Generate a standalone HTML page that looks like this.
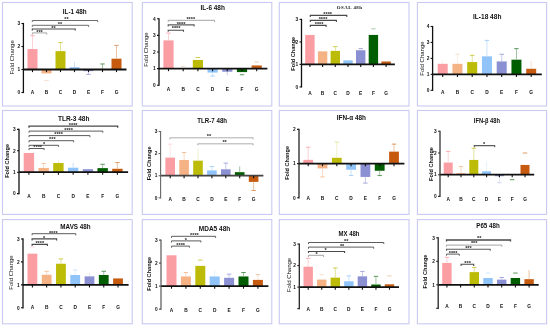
<!DOCTYPE html>
<html><head><meta charset="utf-8"><style>
html,body{margin:0;padding:0;background:#fff;width:550px;height:328px;overflow:hidden}
svg{display:block;will-change:transform;filter:blur(0.3px)}
text{font-family:"Liberation Sans",sans-serif;fill:#111}
.tk{font-size:4.8px;font-weight:bold;text-anchor:middle}
.xl{font-size:4.8px;font-weight:bold;text-anchor:middle}
.st{font-size:5.6px;font-weight:bold;text-anchor:middle;fill:#222}
.ti{text-anchor:middle}
.fc{font-size:6px;font-weight:normal;text-anchor:middle}
.fb{font-size:5.6px;font-weight:bold}
</style></head><body>
<svg width="550" height="328" viewBox="0 0 550 328">
<rect x="2.5" y="2.5" width="129.7" height="103.5" fill="none" stroke="#c9c9f2" stroke-width="1.1"/>
<rect x="27.5" y="49.03" width="10" height="20.47" fill="#fb9ea4"/>
<line x1="32.5" y1="49.03" x2="32.5" y2="35.69" stroke="#fdc6ca" stroke-width="0.8" opacity="1"/>
<line x1="30.3" y1="35.69" x2="34.7" y2="35.69" stroke="#fbb0b5" stroke-width="1" opacity="1"/>
<rect x="41.5" y="69.5" width="10" height="3.91" fill="#f4b285"/>
<line x1="44.3" y1="80.54" x2="48.7" y2="80.54" stroke="#f5c29c" stroke-width="1" opacity="0.5"/>
<rect x="55.5" y="51.1" width="10" height="18.4" fill="#bcbc08"/>
<line x1="60.5" y1="51.1" x2="60.5" y2="42.59" stroke="#dada80" stroke-width="0.8" opacity="1"/>
<line x1="58.3" y1="42.59" x2="62.7" y2="42.59" stroke="#cccc4a" stroke-width="1" opacity="1"/>
<rect x="69.5" y="67.2" width="10" height="2.3" fill="#90c4f8"/>
<line x1="74.5" y1="67.2" x2="74.5" y2="61.91" stroke="#bddcfa" stroke-width="0.8" opacity="1"/>
<rect x="83.5" y="69.5" width="10" height="1.61" fill="#8b90d2"/>
<line x1="88.5" y1="71.11" x2="88.5" y2="74.33" stroke="#b8bbe4" stroke-width="0.8" opacity="1"/>
<line x1="86.3" y1="74.33" x2="90.7" y2="74.33" stroke="#a4a8dc" stroke-width="1" opacity="1"/>
<line x1="102.5" y1="69.5" x2="102.5" y2="63.98" stroke="#8ab48a" stroke-width="0.8" opacity="1"/>
<line x1="100.3" y1="63.98" x2="104.7" y2="63.98" stroke="#5a965a" stroke-width="1" opacity="1"/>
<rect x="111.5" y="58.69" width="10" height="10.81" fill="#c65b10"/>
<line x1="116.5" y1="58.69" x2="116.5" y2="45.35" stroke="#e6b48e" stroke-width="0.8" opacity="1"/>
<line x1="114.3" y1="45.35" x2="118.7" y2="45.35" stroke="#dc9a66" stroke-width="1" opacity="1"/>
<line x1="23.4" y1="69.5" x2="126.5" y2="69.5" stroke="#111" stroke-width="1.8"/>
<line x1="32.5" y1="69.5" x2="32.5" y2="72.1" stroke="#111" stroke-width="1.1"/>
<line x1="46.5" y1="69.5" x2="46.5" y2="72.1" stroke="#111" stroke-width="1.1"/>
<line x1="60.5" y1="69.5" x2="60.5" y2="72.1" stroke="#111" stroke-width="1.1"/>
<line x1="74.5" y1="69.5" x2="74.5" y2="72.1" stroke="#111" stroke-width="1.1"/>
<line x1="88.5" y1="69.5" x2="88.5" y2="72.1" stroke="#111" stroke-width="1.1"/>
<line x1="102.5" y1="69.5" x2="102.5" y2="72.1" stroke="#111" stroke-width="1.1"/>
<line x1="116.5" y1="69.5" x2="116.5" y2="72.1" stroke="#111" stroke-width="1.1"/>
<line x1="23.4" y1="22.9" x2="23.4" y2="93.1" stroke="#111" stroke-width="1.3"/>
<line x1="21.4" y1="92.5" x2="23.4" y2="92.5" stroke="#111" stroke-width="1.1"/>
<text x="18.8" y="94.2" class="tk">0</text>
<line x1="21.4" y1="69.5" x2="23.4" y2="69.5" stroke="#111" stroke-width="1.1"/>
<text x="18.8" y="71.2" class="tk">1</text>
<line x1="21.4" y1="46.5" x2="23.4" y2="46.5" stroke="#111" stroke-width="1.1"/>
<text x="18.8" y="48.2" class="tk">2</text>
<line x1="21.4" y1="23.5" x2="23.4" y2="23.5" stroke="#111" stroke-width="1.1"/>
<text x="18.8" y="25.2" class="tk">3</text>
<text x="32.5" y="93.8" class="xl">A</text>
<text x="46.5" y="93.8" class="xl">B</text>
<text x="60.5" y="93.8" class="xl">C</text>
<text x="74.5" y="93.8" class="xl">D</text>
<text x="88.5" y="93.8" class="xl">E</text>
<text x="102.5" y="93.8" class="xl">F</text>
<text x="116.5" y="93.8" class="xl">G</text>
<path d="M32.3 22.1V20.5H97.7V22.1" fill="none" stroke="#5c5c5c" stroke-width="0.9"/>
<text x="66.5" y="21" class="st">**</text>
<path d="M32.3 26.9V25.3H88.6V26.9" fill="none" stroke="#5c5c5c" stroke-width="0.9"/>
<text x="60" y="25.6" class="st">**</text>
<path d="M32.3 30.6V29H75.2V30.6" fill="none" stroke="#4a4a4a" stroke-width="1.2"/>
<text x="53.4" y="29.7" class="st">**</text>
<path d="M32.3 34.5V32.9H46.8V34.5" fill="none" stroke="#9a9a9a" stroke-width="0.9"/>
<text x="39.5" y="33.9" class="st">***</text>
<text transform="translate(74.7 14.42) scale(1 1.18)" class="ti" style="font-weight:bold;font-family:'Liberation Sans';font-size:6.31px;letter-spacing:0px">IL-1 48h</text>
<text transform="translate(14.4 57.4) rotate(-90)" class="fc">Fold Change</text>
<rect x="142.3" y="2.5" width="129.5" height="103.5" fill="none" stroke="#c9c9f2" stroke-width="1.1"/>
<rect x="163.4" y="40.38" width="10.2" height="28.22" fill="#fb9ea4"/>
<line x1="168.5" y1="40.38" x2="168.5" y2="33.08" stroke="#fdc6ca" stroke-width="0.8" opacity="1"/>
<line x1="166.3" y1="33.08" x2="170.7" y2="33.08" stroke="#fbb0b5" stroke-width="1" opacity="1"/>
<line x1="181" y1="66.44" x2="185.4" y2="66.44" stroke="#f5c29c" stroke-width="1" opacity="0.5"/>
<rect x="192.8" y="59.97" width="10.2" height="8.63" fill="#bcbc08"/>
<line x1="195.7" y1="57.48" x2="200.1" y2="57.48" stroke="#cccc4a" stroke-width="1" opacity="1"/>
<rect x="207.5" y="68.6" width="10.2" height="3.98" fill="#90c4f8"/>
<line x1="212.6" y1="72.58" x2="212.6" y2="76.07" stroke="#bddcfa" stroke-width="0.8" opacity="1"/>
<line x1="210.4" y1="76.07" x2="214.8" y2="76.07" stroke="#a6d0f8" stroke-width="1" opacity="1"/>
<rect x="222.2" y="68.6" width="10.2" height="3.15" fill="#8b90d2"/>
<line x1="227.3" y1="71.75" x2="227.3" y2="75.24" stroke="#b8bbe4" stroke-width="0.8" opacity="1"/>
<rect x="236.9" y="68.6" width="10.2" height="3.49" fill="#005e00"/>
<line x1="239.8" y1="74.74" x2="244.2" y2="74.74" stroke="#5a965a" stroke-width="1" opacity="1"/>
<rect x="251.6" y="65.45" width="10.2" height="3.15" fill="#c65b10"/>
<line x1="254.5" y1="61.96" x2="258.9" y2="61.96" stroke="#dc9a66" stroke-width="1" opacity="0.5"/>
<line x1="159" y1="68.6" x2="267.4" y2="68.6" stroke="#111" stroke-width="1.8"/>
<line x1="168.5" y1="68.6" x2="168.5" y2="71.2" stroke="#111" stroke-width="1.1"/>
<line x1="183.2" y1="68.6" x2="183.2" y2="71.2" stroke="#111" stroke-width="1.1"/>
<line x1="197.9" y1="68.6" x2="197.9" y2="71.2" stroke="#111" stroke-width="1.1"/>
<line x1="212.6" y1="68.6" x2="212.6" y2="71.2" stroke="#111" stroke-width="1.1"/>
<line x1="227.3" y1="68.6" x2="227.3" y2="71.2" stroke="#111" stroke-width="1.1"/>
<line x1="242" y1="68.6" x2="242" y2="71.2" stroke="#111" stroke-width="1.1"/>
<line x1="256.7" y1="68.6" x2="256.7" y2="71.2" stroke="#111" stroke-width="1.1"/>
<line x1="159" y1="18.2" x2="159" y2="85.8" stroke="#111" stroke-width="1.3"/>
<line x1="157" y1="85.2" x2="159" y2="85.2" stroke="#111" stroke-width="1.1"/>
<text x="154.4" y="86.9" class="tk">0</text>
<line x1="157" y1="68.6" x2="159" y2="68.6" stroke="#111" stroke-width="1.1"/>
<text x="154.4" y="70.3" class="tk">1</text>
<line x1="157" y1="52" x2="159" y2="52" stroke="#111" stroke-width="1.1"/>
<text x="154.4" y="53.7" class="tk">2</text>
<line x1="157" y1="35.4" x2="159" y2="35.4" stroke="#111" stroke-width="1.1"/>
<text x="154.4" y="37.1" class="tk">3</text>
<line x1="157" y1="18.8" x2="159" y2="18.8" stroke="#111" stroke-width="1.1"/>
<text x="154.4" y="20.5" class="tk">4</text>
<text x="168.5" y="91" class="xl">A</text>
<text x="183.2" y="91" class="xl">B</text>
<text x="197.9" y="91" class="xl">C</text>
<text x="212.6" y="91" class="xl">D</text>
<text x="227.3" y="91" class="xl">E</text>
<text x="242" y="91" class="xl">F</text>
<text x="256.7" y="91" class="xl">G</text>
<path d="M168.2 21.9V20.3H214.5V21.9" fill="none" stroke="#9a9a9a" stroke-width="0.9"/>
<text x="190.8" y="21" class="st">****</text>
<path d="M168.2 26.5V24.9H194.1V26.5" fill="none" stroke="#5c5c5c" stroke-width="1.1"/>
<text x="181" y="25.6" class="st">****</text>
<path d="M168.2 31.8V30.2H183.5V31.8" fill="none" stroke="#4a4a4a" stroke-width="1.1"/>
<text x="176.1" y="30.4" class="st">****</text>
<text transform="translate(212.7 10.39) scale(1 1.18)" class="ti" style="font-weight:bold;font-family:'Liberation Sans';font-size:6.47px;letter-spacing:0px">IL-6 48h</text>
<text transform="translate(148.2 49.5) rotate(-90)" class="fc">Fold Change</text>
<rect x="279.3" y="2.5" width="129.7" height="103.5" fill="none" stroke="#c9c9f2" stroke-width="1.1"/>
<rect x="305.2" y="34.93" width="9.4" height="29.48" fill="#fb9ea4"/>
<rect x="317.9" y="51.35" width="9.4" height="13.05" fill="#f4b285"/>
<rect x="330.6" y="50.9" width="9.4" height="13.5" fill="#bcbc08"/>
<line x1="335.3" y1="50.9" x2="335.3" y2="46.63" stroke="#dada80" stroke-width="0.8" opacity="1"/>
<line x1="333.1" y1="46.63" x2="337.5" y2="46.63" stroke="#cccc4a" stroke-width="1" opacity="1"/>
<rect x="343.3" y="60.35" width="9.4" height="4.05" fill="#90c4f8"/>
<rect x="356" y="50.23" width="9.4" height="14.17" fill="#8b90d2"/>
<line x1="358.5" y1="48.65" x2="362.9" y2="48.65" stroke="#a4a8dc" stroke-width="1" opacity="1"/>
<rect x="368.7" y="34.93" width="9.4" height="29.48" fill="#005e00"/>
<line x1="371.2" y1="28.85" x2="375.6" y2="28.85" stroke="#5a965a" stroke-width="1" opacity="0.5"/>
<rect x="381.4" y="61.48" width="9.4" height="2.92" fill="#c65b10"/>
<line x1="301.5" y1="64.4" x2="394.9" y2="64.4" stroke="#111" stroke-width="1.8"/>
<line x1="309.9" y1="64.4" x2="309.9" y2="67" stroke="#111" stroke-width="1.1"/>
<line x1="322.6" y1="64.4" x2="322.6" y2="67" stroke="#111" stroke-width="1.1"/>
<line x1="335.3" y1="64.4" x2="335.3" y2="67" stroke="#111" stroke-width="1.1"/>
<line x1="348" y1="64.4" x2="348" y2="67" stroke="#111" stroke-width="1.1"/>
<line x1="360.7" y1="64.4" x2="360.7" y2="67" stroke="#111" stroke-width="1.1"/>
<line x1="373.4" y1="64.4" x2="373.4" y2="67" stroke="#111" stroke-width="1.1"/>
<line x1="386.1" y1="64.4" x2="386.1" y2="67" stroke="#111" stroke-width="1.1"/>
<line x1="301.5" y1="18.8" x2="301.5" y2="87.5" stroke="#111" stroke-width="1.3"/>
<line x1="299.5" y1="86.9" x2="301.5" y2="86.9" stroke="#111" stroke-width="1.1"/>
<text x="296.9" y="88.6" class="tk">0</text>
<line x1="299.5" y1="64.4" x2="301.5" y2="64.4" stroke="#111" stroke-width="1.1"/>
<text x="296.9" y="66.1" class="tk">1</text>
<line x1="299.5" y1="41.9" x2="301.5" y2="41.9" stroke="#111" stroke-width="1.1"/>
<text x="296.9" y="43.6" class="tk">2</text>
<line x1="299.5" y1="19.4" x2="301.5" y2="19.4" stroke="#111" stroke-width="1.1"/>
<text x="296.9" y="21.1" class="tk">3</text>
<text x="309.9" y="95" class="xl">A</text>
<text x="322.6" y="95" class="xl">B</text>
<text x="335.3" y="95" class="xl">C</text>
<text x="348" y="95" class="xl">D</text>
<text x="360.7" y="95" class="xl">E</text>
<text x="373.4" y="95" class="xl">F</text>
<text x="386.1" y="95" class="xl">G</text>
<path d="M310.3 17V15.4H346.8V17" fill="none" stroke="#4a4a4a" stroke-width="1.1"/>
<text x="327.7" y="15.6" class="st">****</text>
<path d="M310.3 22V20.4H336.4V22" fill="none" stroke="#4a4a4a" stroke-width="1.1"/>
<text x="323" y="20.7" class="st">****</text>
<path d="M310.3 27V25.4H326.1V27" fill="none" stroke="#4a4a4a" stroke-width="1.1"/>
<text x="319.1" y="25.6" class="st">****</text>
<text transform="translate(349.6 9.29) scale(1 1)" class="ti" style="font-weight:bold;font-family:'Liberation Serif';font-size:4.9px;letter-spacing:0.45px">OSAL 48h</text>
<text transform="translate(294.6 53.7) rotate(-90)" class="fc fb">Fold Change</text>
<rect x="417.4" y="2.5" width="129.2" height="103.5" fill="none" stroke="#c9c9f2" stroke-width="1.1"/>
<rect x="437.7" y="63.82" width="10" height="10.53" fill="#fb9ea4"/>
<line x1="442.7" y1="63.82" x2="442.7" y2="60.47" stroke="#fdc6ca" stroke-width="0.8" opacity="0.5"/>
<rect x="452.45" y="63.82" width="10" height="10.53" fill="#f4b285"/>
<line x1="457.45" y1="63.82" x2="457.45" y2="54.25" stroke="#f8d2b6" stroke-width="0.8" opacity="0.5"/>
<line x1="455.25" y1="54.25" x2="459.65" y2="54.25" stroke="#f5c29c" stroke-width="1" opacity="0.5"/>
<rect x="467.2" y="62.07" width="10" height="12.28" fill="#bcbc08"/>
<line x1="472.2" y1="62.07" x2="472.2" y2="55.37" stroke="#dada80" stroke-width="0.8" opacity="1"/>
<line x1="470" y1="55.37" x2="474.4" y2="55.37" stroke="#cccc4a" stroke-width="1" opacity="1"/>
<rect x="481.95" y="56.33" width="10" height="18.02" fill="#90c4f8"/>
<line x1="486.95" y1="56.33" x2="486.95" y2="40.38" stroke="#bddcfa" stroke-width="0.8" opacity="1"/>
<line x1="484.75" y1="40.38" x2="489.15" y2="40.38" stroke="#a6d0f8" stroke-width="1" opacity="1"/>
<rect x="496.7" y="61.43" width="10" height="12.92" fill="#8b90d2"/>
<line x1="501.7" y1="61.43" x2="501.7" y2="54.25" stroke="#b8bbe4" stroke-width="0.8" opacity="1"/>
<line x1="499.5" y1="54.25" x2="503.9" y2="54.25" stroke="#a4a8dc" stroke-width="1" opacity="1"/>
<rect x="511.45" y="59.68" width="10" height="14.67" fill="#005e00"/>
<line x1="516.45" y1="59.68" x2="516.45" y2="48.67" stroke="#8ab48a" stroke-width="0.8" opacity="1"/>
<line x1="514.25" y1="48.67" x2="518.65" y2="48.67" stroke="#5a965a" stroke-width="1" opacity="1"/>
<rect x="526.2" y="68.77" width="10" height="5.58" fill="#c65b10"/>
<line x1="531.2" y1="68.77" x2="531.2" y2="60.95" stroke="#e6b48e" stroke-width="0.8" opacity="0.5"/>
<line x1="432.6" y1="74.35" x2="541.8" y2="74.35" stroke="#111" stroke-width="1.8"/>
<line x1="442.7" y1="74.35" x2="442.7" y2="76.95" stroke="#111" stroke-width="1.1"/>
<line x1="457.45" y1="74.35" x2="457.45" y2="76.95" stroke="#111" stroke-width="1.1"/>
<line x1="472.2" y1="74.35" x2="472.2" y2="76.95" stroke="#111" stroke-width="1.1"/>
<line x1="486.95" y1="74.35" x2="486.95" y2="76.95" stroke="#111" stroke-width="1.1"/>
<line x1="501.7" y1="74.35" x2="501.7" y2="76.95" stroke="#111" stroke-width="1.1"/>
<line x1="516.45" y1="74.35" x2="516.45" y2="76.95" stroke="#111" stroke-width="1.1"/>
<line x1="531.2" y1="74.35" x2="531.2" y2="76.95" stroke="#111" stroke-width="1.1"/>
<line x1="432.6" y1="25.9" x2="432.6" y2="90.9" stroke="#111" stroke-width="1.3"/>
<line x1="430.6" y1="90.3" x2="432.6" y2="90.3" stroke="#111" stroke-width="1.1"/>
<text x="428" y="92" class="tk">0</text>
<line x1="430.6" y1="74.35" x2="432.6" y2="74.35" stroke="#111" stroke-width="1.1"/>
<text x="428" y="76.05" class="tk">1</text>
<line x1="430.6" y1="58.4" x2="432.6" y2="58.4" stroke="#111" stroke-width="1.1"/>
<text x="428" y="60.1" class="tk">2</text>
<line x1="430.6" y1="42.45" x2="432.6" y2="42.45" stroke="#111" stroke-width="1.1"/>
<text x="428" y="44.15" class="tk">3</text>
<line x1="430.6" y1="26.5" x2="432.6" y2="26.5" stroke="#111" stroke-width="1.1"/>
<text x="428" y="28.2" class="tk">4</text>
<text x="442.7" y="94.2" class="xl">A</text>
<text x="457.45" y="94.2" class="xl">B</text>
<text x="472.2" y="94.2" class="xl">C</text>
<text x="486.95" y="94.2" class="xl">D</text>
<text x="501.7" y="94.2" class="xl">E</text>
<text x="516.45" y="94.2" class="xl">F</text>
<text x="531.2" y="94.2" class="xl">G</text>
<text transform="translate(487.2 18.73) scale(1 1.18)" class="ti" style="font-weight:bold;font-family:'Liberation Sans';font-size:6.57px;letter-spacing:0px">IL-18 48h</text>
<text transform="translate(423.9 58.6) rotate(-90)" class="fc">Fold Change</text>
<rect x="2.5" y="110.5" width="129.7" height="103.9" fill="none" stroke="#c9c9f2" stroke-width="1.1"/>
<rect x="23.7" y="152.94" width="10.4" height="19.26" fill="#fb9ea4"/>
<rect x="38.45" y="167.92" width="10.4" height="4.28" fill="#f4b285"/>
<line x1="43.65" y1="167.92" x2="43.65" y2="163.43" stroke="#f8d2b6" stroke-width="0.8" opacity="1"/>
<line x1="41.45" y1="163.43" x2="45.85" y2="163.43" stroke="#f5c29c" stroke-width="1" opacity="1"/>
<rect x="53.2" y="163" width="10.4" height="9.2" fill="#bcbc08"/>
<line x1="58.4" y1="163" x2="58.4" y2="160.43" stroke="#dada80" stroke-width="0.8" opacity="0.5"/>
<rect x="67.95" y="167.71" width="10.4" height="4.49" fill="#90c4f8"/>
<line x1="73.15" y1="167.71" x2="73.15" y2="162.57" stroke="#bddcfa" stroke-width="0.8" opacity="1"/>
<rect x="82.7" y="169.2" width="10.4" height="3" fill="#8b90d2"/>
<rect x="97.45" y="168.13" width="10.4" height="4.07" fill="#005e00"/>
<line x1="102.65" y1="168.13" x2="102.65" y2="164.28" stroke="#8ab48a" stroke-width="0.8" opacity="1"/>
<line x1="100.45" y1="164.28" x2="104.85" y2="164.28" stroke="#5a965a" stroke-width="1" opacity="1"/>
<rect x="112.2" y="168.78" width="10.4" height="3.42" fill="#c65b10"/>
<line x1="117.4" y1="168.78" x2="117.4" y2="162.57" stroke="#e6b48e" stroke-width="0.8" opacity="1"/>
<line x1="115.2" y1="162.57" x2="119.6" y2="162.57" stroke="#dc9a66" stroke-width="1" opacity="1"/>
<line x1="19" y1="172.2" x2="128.1" y2="172.2" stroke="#111" stroke-width="1.8"/>
<line x1="28.9" y1="172.2" x2="28.9" y2="174.8" stroke="#111" stroke-width="1.1"/>
<line x1="43.65" y1="172.2" x2="43.65" y2="174.8" stroke="#111" stroke-width="1.1"/>
<line x1="58.4" y1="172.2" x2="58.4" y2="174.8" stroke="#111" stroke-width="1.1"/>
<line x1="73.15" y1="172.2" x2="73.15" y2="174.8" stroke="#111" stroke-width="1.1"/>
<line x1="87.9" y1="172.2" x2="87.9" y2="174.8" stroke="#111" stroke-width="1.1"/>
<line x1="102.65" y1="172.2" x2="102.65" y2="174.8" stroke="#111" stroke-width="1.1"/>
<line x1="117.4" y1="172.2" x2="117.4" y2="174.8" stroke="#111" stroke-width="1.1"/>
<line x1="19" y1="128.8" x2="19" y2="194.2" stroke="#111" stroke-width="1.3"/>
<line x1="17" y1="193.6" x2="19" y2="193.6" stroke="#111" stroke-width="1.1"/>
<text x="14.4" y="195.3" class="tk">0</text>
<line x1="17" y1="172.2" x2="19" y2="172.2" stroke="#111" stroke-width="1.1"/>
<text x="14.4" y="173.9" class="tk">1</text>
<line x1="17" y1="150.8" x2="19" y2="150.8" stroke="#111" stroke-width="1.1"/>
<text x="14.4" y="152.5" class="tk">2</text>
<line x1="17" y1="129.4" x2="19" y2="129.4" stroke="#111" stroke-width="1.1"/>
<text x="14.4" y="131.1" class="tk">3</text>
<text x="28.9" y="197.9" class="xl">A</text>
<text x="43.65" y="197.9" class="xl">B</text>
<text x="58.4" y="197.9" class="xl">C</text>
<text x="73.15" y="197.9" class="xl">D</text>
<text x="87.9" y="197.9" class="xl">E</text>
<text x="102.65" y="197.9" class="xl">F</text>
<text x="117.4" y="197.9" class="xl">G</text>
<path d="M29 127.8V126.2H117.7V127.8" fill="none" stroke="#4a4a4a" stroke-width="1.3"/>
<text x="73.2" y="126.8" class="st">****</text>
<path d="M29 132.7V131.1H102.8V132.7" fill="none" stroke="#5c5c5c" stroke-width="1"/>
<text x="68.6" y="131.7" class="st">****</text>
<path d="M29 137.2V135.6H89.9V137.2" fill="none" stroke="#5c5c5c" stroke-width="1"/>
<text x="58.6" y="136.2" class="st">****</text>
<path d="M29 142.3V140.7H73.7V142.3" fill="none" stroke="#5c5c5c" stroke-width="1"/>
<text x="52.3" y="141.3" class="st">***</text>
<path d="M29 146.9V145.3H58.6V146.9" fill="none" stroke="#5c5c5c" stroke-width="1"/>
<text x="44" y="145.9" class="st">*</text>
<path d="M29 150.1V148.5H44.1V150.1" fill="none" stroke="#5c5c5c" stroke-width="1"/>
<text x="37.7" y="149.3" class="st">****</text>
<text transform="translate(73.7 120.51) scale(1 1.18)" class="ti" style="font-weight:bold;font-family:'Liberation Sans';font-size:6.52px;letter-spacing:0px">TLR-3 48h</text>
<text transform="translate(9.4 160.9) rotate(-90)" class="fc fb">Fold Change</text>
<rect x="142.3" y="110.5" width="129.5" height="103.9" fill="none" stroke="#c9c9f2" stroke-width="1.1"/>
<rect x="165.4" y="157.58" width="9.6" height="18.12" fill="#fb9ea4"/>
<line x1="170.2" y1="157.58" x2="170.2" y2="144.1" stroke="#fdc6ca" stroke-width="0.8" opacity="0.5"/>
<line x1="168" y1="144.1" x2="172.4" y2="144.1" stroke="#fbb0b5" stroke-width="1" opacity="0.5"/>
<rect x="179.3" y="160.01" width="9.6" height="15.69" fill="#f4b285"/>
<line x1="184.1" y1="160.01" x2="184.1" y2="152.5" stroke="#f8d2b6" stroke-width="0.8" opacity="1"/>
<line x1="181.9" y1="152.5" x2="186.3" y2="152.5" stroke="#f5c29c" stroke-width="1" opacity="1"/>
<rect x="193.2" y="160.67" width="9.6" height="15.03" fill="#bcbc08"/>
<line x1="198" y1="160.67" x2="198" y2="148.3" stroke="#dada80" stroke-width="0.8" opacity="0.5"/>
<rect x="207.1" y="170.4" width="9.6" height="5.3" fill="#90c4f8"/>
<line x1="211.9" y1="170.4" x2="211.9" y2="166.42" stroke="#bddcfa" stroke-width="0.8" opacity="1"/>
<line x1="209.7" y1="166.42" x2="214.1" y2="166.42" stroke="#a6d0f8" stroke-width="1" opacity="1"/>
<rect x="221" y="169.29" width="9.6" height="6.41" fill="#8b90d2"/>
<line x1="225.8" y1="169.29" x2="225.8" y2="163.1" stroke="#b8bbe4" stroke-width="0.8" opacity="1"/>
<line x1="223.6" y1="163.1" x2="228" y2="163.1" stroke="#a4a8dc" stroke-width="1" opacity="1"/>
<rect x="234.9" y="172.16" width="9.6" height="3.54" fill="#005e00"/>
<line x1="239.7" y1="172.16" x2="239.7" y2="166.42" stroke="#8ab48a" stroke-width="0.8" opacity="1"/>
<rect x="248.8" y="175.7" width="9.6" height="6.19" fill="#c65b10"/>
<line x1="253.6" y1="181.89" x2="253.6" y2="190.51" stroke="#e6b48e" stroke-width="0.8" opacity="1"/>
<line x1="251.4" y1="190.51" x2="255.8" y2="190.51" stroke="#dc9a66" stroke-width="1" opacity="1"/>
<line x1="160.6" y1="175.7" x2="263.4" y2="175.7" stroke="#444" stroke-width="1.8"/>
<line x1="170.2" y1="175.7" x2="170.2" y2="178.3" stroke="#111" stroke-width="1.1"/>
<line x1="184.1" y1="175.7" x2="184.1" y2="178.3" stroke="#111" stroke-width="1.1"/>
<line x1="198" y1="175.7" x2="198" y2="178.3" stroke="#111" stroke-width="1.1"/>
<line x1="211.9" y1="175.7" x2="211.9" y2="178.3" stroke="#111" stroke-width="1.1"/>
<line x1="225.8" y1="175.7" x2="225.8" y2="178.3" stroke="#111" stroke-width="1.1"/>
<line x1="239.7" y1="175.7" x2="239.7" y2="178.3" stroke="#111" stroke-width="1.1"/>
<line x1="253.6" y1="175.7" x2="253.6" y2="178.3" stroke="#111" stroke-width="1.1"/>
<line x1="160.6" y1="130.9" x2="160.6" y2="198.4" stroke="#666" stroke-width="1.1"/>
<line x1="158.6" y1="197.8" x2="160.6" y2="197.8" stroke="#666" stroke-width="1.1"/>
<text x="156" y="199.5" class="tk">0</text>
<line x1="158.6" y1="175.7" x2="160.6" y2="175.7" stroke="#666" stroke-width="1.1"/>
<text x="156" y="177.4" class="tk">1</text>
<line x1="158.6" y1="153.6" x2="160.6" y2="153.6" stroke="#666" stroke-width="1.1"/>
<text x="156" y="155.3" class="tk">2</text>
<line x1="158.6" y1="131.5" x2="160.6" y2="131.5" stroke="#666" stroke-width="1.1"/>
<text x="156" y="133.2" class="tk">3</text>
<text x="170.2" y="200.8" class="xl">A</text>
<text x="184.1" y="200.8" class="xl">B</text>
<text x="198" y="200.8" class="xl">C</text>
<text x="211.9" y="200.8" class="xl">D</text>
<text x="225.8" y="200.8" class="xl">E</text>
<text x="239.7" y="200.8" class="xl">F</text>
<text x="253.6" y="200.8" class="xl">G</text>
<path d="M169.8 139.4V137.8H253.1V139.4" fill="none" stroke="#9a9a9a" stroke-width="0.8"/>
<text x="209" y="138" class="st">**</text>
<path d="M197.8 145.4V143.8H253.1V145.4" fill="none" stroke="#9a9a9a" stroke-width="0.8"/>
<text x="224.6" y="144.3" class="st">**</text>
<text transform="translate(212.2 122.95) scale(1 1.18)" class="ti" style="font-weight:bold;font-family:'Liberation Sans';font-size:6.16px;letter-spacing:0px">TLR-7 48h</text>
<text transform="translate(150.8 163.4) rotate(-90)" class="fc fb">Fold Change</text>
<rect x="279.3" y="110.5" width="129.7" height="103.9" fill="none" stroke="#c9c9f2" stroke-width="1.1"/>
<rect x="303.3" y="159.84" width="9.8" height="3.76" fill="#fb9ea4"/>
<line x1="308.2" y1="159.84" x2="308.2" y2="147.18" stroke="#fdc6ca" stroke-width="0.8" opacity="1"/>
<line x1="306" y1="147.18" x2="310.4" y2="147.18" stroke="#fbb0b5" stroke-width="1" opacity="1"/>
<rect x="317.6" y="163.6" width="9.8" height="4.79" fill="#f4b285"/>
<line x1="322.5" y1="168.39" x2="322.5" y2="176.94" stroke="#f8d2b6" stroke-width="0.8" opacity="1"/>
<line x1="320.3" y1="176.94" x2="324.7" y2="176.94" stroke="#f5c29c" stroke-width="1" opacity="1"/>
<rect x="331.9" y="157.79" width="9.8" height="5.81" fill="#bcbc08"/>
<line x1="336.8" y1="157.79" x2="336.8" y2="142.05" stroke="#dada80" stroke-width="0.8" opacity="0.5"/>
<line x1="334.6" y1="142.05" x2="339" y2="142.05" stroke="#cccc4a" stroke-width="1" opacity="0.5"/>
<rect x="346.2" y="163.6" width="9.8" height="6.16" fill="#90c4f8"/>
<line x1="351.1" y1="169.76" x2="351.1" y2="175.57" stroke="#bddcfa" stroke-width="0.8" opacity="1"/>
<line x1="348.9" y1="175.57" x2="353.3" y2="175.57" stroke="#a6d0f8" stroke-width="1" opacity="1"/>
<rect x="360.5" y="163.6" width="9.8" height="13.34" fill="#8b90d2"/>
<line x1="365.4" y1="176.94" x2="365.4" y2="183.09" stroke="#b8bbe4" stroke-width="0.8" opacity="1"/>
<line x1="363.2" y1="183.09" x2="367.6" y2="183.09" stroke="#a4a8dc" stroke-width="1" opacity="1"/>
<rect x="374.8" y="163.6" width="9.8" height="7.18" fill="#005e00"/>
<line x1="379.7" y1="170.78" x2="379.7" y2="175.57" stroke="#8ab48a" stroke-width="0.8" opacity="1"/>
<line x1="377.5" y1="175.57" x2="381.9" y2="175.57" stroke="#5a965a" stroke-width="1" opacity="1"/>
<rect x="389.1" y="151.63" width="9.8" height="11.97" fill="#c65b10"/>
<line x1="394" y1="151.63" x2="394" y2="144.11" stroke="#e6b48e" stroke-width="0.8" opacity="1"/>
<line x1="391.8" y1="144.11" x2="396.2" y2="144.11" stroke="#dc9a66" stroke-width="1" opacity="1"/>
<line x1="299" y1="163.6" x2="404.4" y2="163.6" stroke="#111" stroke-width="1.8"/>
<line x1="308.2" y1="163.6" x2="308.2" y2="166.2" stroke="#111" stroke-width="1.1"/>
<line x1="322.5" y1="163.6" x2="322.5" y2="166.2" stroke="#111" stroke-width="1.1"/>
<line x1="336.8" y1="163.6" x2="336.8" y2="166.2" stroke="#111" stroke-width="1.1"/>
<line x1="351.1" y1="163.6" x2="351.1" y2="166.2" stroke="#111" stroke-width="1.1"/>
<line x1="365.4" y1="163.6" x2="365.4" y2="166.2" stroke="#111" stroke-width="1.1"/>
<line x1="379.7" y1="163.6" x2="379.7" y2="166.2" stroke="#111" stroke-width="1.1"/>
<line x1="394" y1="163.6" x2="394" y2="166.2" stroke="#111" stroke-width="1.1"/>
<line x1="299" y1="128.8" x2="299" y2="198.4" stroke="#222" stroke-width="1.3"/>
<line x1="297" y1="197.8" x2="299" y2="197.8" stroke="#222" stroke-width="1.1"/>
<text x="294.4" y="199.5" class="tk">0</text>
<line x1="297" y1="163.6" x2="299" y2="163.6" stroke="#222" stroke-width="1.1"/>
<text x="294.4" y="165.3" class="tk">1</text>
<line x1="297" y1="129.4" x2="299" y2="129.4" stroke="#222" stroke-width="1.1"/>
<text x="294.4" y="131.1" class="tk">2</text>
<text x="308.2" y="200" class="xl">A</text>
<text x="322.5" y="200" class="xl">B</text>
<text x="336.8" y="200" class="xl">C</text>
<text x="351.1" y="200" class="xl">D</text>
<text x="365.4" y="200" class="xl">E</text>
<text x="379.7" y="200" class="xl">F</text>
<text x="394" y="200" class="xl">G</text>
<text transform="translate(351.4 120.46) scale(1 1.18)" class="ti" style="font-weight:bold;font-family:'Liberation Sans';font-size:6.42px;letter-spacing:0px">IFN-α 48h</text>
<text transform="translate(288.8 162.9) rotate(-90)" class="fc fb">Fold Change</text>
<rect x="417.4" y="110.5" width="129.2" height="103.9" fill="none" stroke="#c9c9f2" stroke-width="1.1"/>
<rect x="443.7" y="162.55" width="9" height="12.15" fill="#fb9ea4"/>
<line x1="448.2" y1="162.55" x2="448.2" y2="151.48" stroke="#fdc6ca" stroke-width="0.8" opacity="1"/>
<line x1="446" y1="151.48" x2="450.4" y2="151.48" stroke="#fbb0b5" stroke-width="1" opacity="1"/>
<rect x="456.5" y="173.18" width="9" height="1.52" fill="#f4b285"/>
<line x1="461" y1="173.18" x2="461" y2="166.67" stroke="#f8d2b6" stroke-width="0.8" opacity="1"/>
<line x1="458.8" y1="166.67" x2="463.2" y2="166.67" stroke="#f5c29c" stroke-width="1" opacity="1"/>
<rect x="469.3" y="159.94" width="9" height="14.76" fill="#bcbc08"/>
<line x1="473.8" y1="159.94" x2="473.8" y2="148.23" stroke="#dada80" stroke-width="0.8" opacity="1"/>
<line x1="471.6" y1="148.23" x2="476" y2="148.23" stroke="#cccc4a" stroke-width="1" opacity="1"/>
<rect x="482.1" y="171.23" width="9" height="3.47" fill="#90c4f8"/>
<line x1="486.6" y1="171.23" x2="486.6" y2="161.68" stroke="#bddcfa" stroke-width="0.8" opacity="0.5"/>
<rect x="494.9" y="174.7" width="9" height="1.52" fill="#8b90d2"/>
<line x1="499.4" y1="176.22" x2="499.4" y2="182.73" stroke="#b8bbe4" stroke-width="0.8" opacity="0.5"/>
<line x1="497.2" y1="182.73" x2="501.6" y2="182.73" stroke="#a4a8dc" stroke-width="1" opacity="0.5"/>
<line x1="510" y1="179.69" x2="514.4" y2="179.69" stroke="#5a965a" stroke-width="1" opacity="1"/>
<rect x="520.5" y="164.94" width="9" height="9.77" fill="#c65b10"/>
<line x1="522.8" y1="153" x2="527.2" y2="153" stroke="#dc9a66" stroke-width="1" opacity="1"/>
<line x1="440" y1="174.7" x2="534.2" y2="174.7" stroke="#111" stroke-width="1.8"/>
<line x1="448.2" y1="174.7" x2="448.2" y2="177.3" stroke="#111" stroke-width="1.1"/>
<line x1="461" y1="174.7" x2="461" y2="177.3" stroke="#111" stroke-width="1.1"/>
<line x1="473.8" y1="174.7" x2="473.8" y2="177.3" stroke="#111" stroke-width="1.1"/>
<line x1="486.6" y1="174.7" x2="486.6" y2="177.3" stroke="#111" stroke-width="1.1"/>
<line x1="499.4" y1="174.7" x2="499.4" y2="177.3" stroke="#111" stroke-width="1.1"/>
<line x1="512.2" y1="174.7" x2="512.2" y2="177.3" stroke="#111" stroke-width="1.1"/>
<line x1="525" y1="174.7" x2="525" y2="177.3" stroke="#111" stroke-width="1.1"/>
<line x1="440" y1="130.7" x2="440" y2="197" stroke="#333" stroke-width="1.3"/>
<line x1="438" y1="196.4" x2="440" y2="196.4" stroke="#333" stroke-width="1.1"/>
<text x="435.4" y="198.1" class="tk">0</text>
<line x1="438" y1="174.7" x2="440" y2="174.7" stroke="#333" stroke-width="1.1"/>
<text x="435.4" y="176.4" class="tk">1</text>
<line x1="438" y1="153" x2="440" y2="153" stroke="#333" stroke-width="1.1"/>
<text x="435.4" y="154.7" class="tk">2</text>
<line x1="438" y1="131.3" x2="440" y2="131.3" stroke="#333" stroke-width="1.1"/>
<text x="435.4" y="133" class="tk">3</text>
<text x="448.2" y="200.8" class="xl">A</text>
<text x="461" y="200.8" class="xl">B</text>
<text x="473.8" y="200.8" class="xl">C</text>
<text x="486.6" y="200.8" class="xl">D</text>
<text x="499.4" y="200.8" class="xl">E</text>
<text x="512.2" y="200.8" class="xl">F</text>
<text x="525" y="200.8" class="xl">G</text>
<path d="M474.3 147.2V145.6H494.7V147.2" fill="none" stroke="#5c5c5c" stroke-width="1.1"/>
<text x="484" y="146.4" class="st">*</text>
<text transform="translate(486.9 122.87) scale(1 1.18)" class="ti" style="font-weight:bold;font-family:'Liberation Sans';font-size:5.74px;letter-spacing:0px">IFN-β 48h</text>
<text transform="translate(432.9 164) rotate(-90)" class="fc fb">Fold Change</text>
<rect x="2.5" y="219.6" width="129.7" height="104.2" fill="none" stroke="#c9c9f2" stroke-width="1.1"/>
<rect x="27.5" y="253.64" width="9.8" height="31.21" fill="#fb9ea4"/>
<line x1="30.2" y1="246.98" x2="34.6" y2="246.98" stroke="#fbb0b5" stroke-width="1" opacity="0.5"/>
<rect x="41.77" y="274.75" width="9.8" height="10.1" fill="#f4b285"/>
<line x1="46.67" y1="274.75" x2="46.67" y2="271.31" stroke="#f8d2b6" stroke-width="0.8" opacity="1"/>
<line x1="44.47" y1="271.31" x2="48.87" y2="271.31" stroke="#f5c29c" stroke-width="1" opacity="1"/>
<rect x="56.04" y="263.74" width="9.8" height="21.11" fill="#bcbc08"/>
<line x1="60.94" y1="263.74" x2="60.94" y2="258.92" stroke="#dada80" stroke-width="0.8" opacity="1"/>
<line x1="58.74" y1="258.92" x2="63.14" y2="258.92" stroke="#cccc4a" stroke-width="1" opacity="1"/>
<rect x="70.31" y="274.98" width="9.8" height="9.87" fill="#90c4f8"/>
<line x1="75.21" y1="274.98" x2="75.21" y2="269.93" stroke="#bddcfa" stroke-width="0.8" opacity="0.5"/>
<line x1="73.01" y1="269.93" x2="77.41" y2="269.93" stroke="#a6d0f8" stroke-width="1" opacity="0.5"/>
<rect x="84.58" y="276.36" width="9.8" height="8.49" fill="#8b90d2"/>
<line x1="89.48" y1="276.36" x2="89.48" y2="272.92" stroke="#b8bbe4" stroke-width="0.8" opacity="0.5"/>
<rect x="98.85" y="274.98" width="9.8" height="9.87" fill="#005e00"/>
<line x1="103.75" y1="274.98" x2="103.75" y2="271.31" stroke="#8ab48a" stroke-width="0.8" opacity="1"/>
<line x1="101.55" y1="271.31" x2="105.95" y2="271.31" stroke="#5a965a" stroke-width="1" opacity="1"/>
<rect x="113.12" y="278.42" width="9.8" height="6.43" fill="#c65b10"/>
<line x1="23" y1="284.85" x2="128.6" y2="284.85" stroke="#111" stroke-width="1.8"/>
<line x1="32.4" y1="284.85" x2="32.4" y2="287.45" stroke="#111" stroke-width="1.1"/>
<line x1="46.67" y1="284.85" x2="46.67" y2="287.45" stroke="#111" stroke-width="1.1"/>
<line x1="60.94" y1="284.85" x2="60.94" y2="287.45" stroke="#111" stroke-width="1.1"/>
<line x1="75.21" y1="284.85" x2="75.21" y2="287.45" stroke="#111" stroke-width="1.1"/>
<line x1="89.48" y1="284.85" x2="89.48" y2="287.45" stroke="#111" stroke-width="1.1"/>
<line x1="103.75" y1="284.85" x2="103.75" y2="287.45" stroke="#111" stroke-width="1.1"/>
<line x1="118.02" y1="284.85" x2="118.02" y2="287.45" stroke="#111" stroke-width="1.1"/>
<line x1="23" y1="238.35" x2="23" y2="308.4" stroke="#111" stroke-width="1.3"/>
<line x1="21" y1="307.8" x2="23" y2="307.8" stroke="#111" stroke-width="1.1"/>
<text x="18.4" y="309.5" class="tk">0</text>
<line x1="21" y1="284.85" x2="23" y2="284.85" stroke="#111" stroke-width="1.1"/>
<text x="18.4" y="286.55" class="tk">1</text>
<line x1="21" y1="261.9" x2="23" y2="261.9" stroke="#111" stroke-width="1.1"/>
<text x="18.4" y="263.6" class="tk">2</text>
<line x1="21" y1="238.95" x2="23" y2="238.95" stroke="#111" stroke-width="1.1"/>
<text x="18.4" y="240.65" class="tk">3</text>
<text x="32.4" y="309.2" class="xl">A</text>
<text x="46.67" y="309.2" class="xl">B</text>
<text x="60.94" y="309.2" class="xl">C</text>
<text x="75.21" y="309.2" class="xl">D</text>
<text x="89.48" y="309.2" class="xl">E</text>
<text x="103.75" y="309.2" class="xl">F</text>
<text x="118.02" y="309.2" class="xl">G</text>
<path d="M32.1 235.3V233.7H75.8V235.3" fill="none" stroke="#5c5c5c" stroke-width="1"/>
<text x="53.3" y="234.6" class="st">****</text>
<path d="M32.1 240.5V238.9H56.6V240.5" fill="none" stroke="#4a4a4a" stroke-width="1.2"/>
<text x="44.1" y="239.8" class="st">*</text>
<path d="M32.1 246V244.4H47.4V246" fill="none" stroke="#4a4a4a" stroke-width="1.1"/>
<text x="39.8" y="244.7" class="st">****</text>
<text transform="translate(75.5 229.32) scale(1 1.18)" class="ti" style="font-weight:bold;font-family:'Liberation Sans';font-size:6.31px;letter-spacing:0px">MAVS 48h</text>
<text transform="translate(13.3 272.5) rotate(-90)" class="fc">Fold Change</text>
<rect x="142.3" y="219.6" width="129.5" height="104.2" fill="none" stroke="#c9c9f2" stroke-width="1.1"/>
<rect x="166.5" y="255.28" width="10" height="30.82" fill="#fb9ea4"/>
<rect x="180.9" y="276.44" width="10" height="9.66" fill="#f4b285"/>
<line x1="185.9" y1="276.44" x2="185.9" y2="272.53" stroke="#f8d2b6" stroke-width="0.8" opacity="1"/>
<line x1="183.7" y1="272.53" x2="188.1" y2="272.53" stroke="#f5c29c" stroke-width="1" opacity="1"/>
<rect x="195.3" y="265.86" width="10" height="20.24" fill="#bcbc08"/>
<line x1="198.1" y1="260.11" x2="202.5" y2="260.11" stroke="#cccc4a" stroke-width="1" opacity="1"/>
<rect x="209.7" y="276.44" width="10" height="9.66" fill="#90c4f8"/>
<line x1="214.7" y1="276.44" x2="214.7" y2="270.46" stroke="#bddcfa" stroke-width="0.8" opacity="0.5"/>
<rect x="224.1" y="277.82" width="10" height="8.28" fill="#8b90d2"/>
<line x1="229.1" y1="277.82" x2="229.1" y2="274.14" stroke="#b8bbe4" stroke-width="0.8" opacity="1"/>
<line x1="226.9" y1="274.14" x2="231.3" y2="274.14" stroke="#a4a8dc" stroke-width="1" opacity="1"/>
<rect x="238.5" y="276.44" width="10" height="9.66" fill="#005e00"/>
<line x1="243.5" y1="276.44" x2="243.5" y2="272.53" stroke="#8ab48a" stroke-width="0.8" opacity="1"/>
<line x1="241.3" y1="272.53" x2="245.7" y2="272.53" stroke="#5a965a" stroke-width="1" opacity="1"/>
<rect x="252.9" y="279.89" width="10" height="6.21" fill="#c65b10"/>
<line x1="257.9" y1="279.89" x2="257.9" y2="274.6" stroke="#e6b48e" stroke-width="0.8" opacity="0.5"/>
<line x1="255.7" y1="274.6" x2="260.1" y2="274.6" stroke="#dc9a66" stroke-width="1" opacity="0.5"/>
<line x1="161" y1="286.1" x2="268.4" y2="286.1" stroke="#111" stroke-width="1.8"/>
<line x1="171.5" y1="286.1" x2="171.5" y2="288.7" stroke="#111" stroke-width="1.1"/>
<line x1="185.9" y1="286.1" x2="185.9" y2="288.7" stroke="#111" stroke-width="1.1"/>
<line x1="200.3" y1="286.1" x2="200.3" y2="288.7" stroke="#111" stroke-width="1.1"/>
<line x1="214.7" y1="286.1" x2="214.7" y2="288.7" stroke="#111" stroke-width="1.1"/>
<line x1="229.1" y1="286.1" x2="229.1" y2="288.7" stroke="#111" stroke-width="1.1"/>
<line x1="243.5" y1="286.1" x2="243.5" y2="288.7" stroke="#111" stroke-width="1.1"/>
<line x1="257.9" y1="286.1" x2="257.9" y2="288.7" stroke="#111" stroke-width="1.1"/>
<line x1="161" y1="239.5" x2="161" y2="309.7" stroke="#555" stroke-width="1.2"/>
<line x1="159" y1="309.1" x2="161" y2="309.1" stroke="#555" stroke-width="1.1"/>
<text x="156.4" y="310.8" class="tk">0</text>
<line x1="159" y1="286.1" x2="161" y2="286.1" stroke="#555" stroke-width="1.1"/>
<text x="156.4" y="287.8" class="tk">1</text>
<line x1="159" y1="263.1" x2="161" y2="263.1" stroke="#555" stroke-width="1.1"/>
<text x="156.4" y="264.8" class="tk">2</text>
<line x1="159" y1="240.1" x2="161" y2="240.1" stroke="#555" stroke-width="1.1"/>
<text x="156.4" y="241.8" class="tk">3</text>
<text x="171.5" y="311.6" class="xl">A</text>
<text x="185.9" y="311.6" class="xl">B</text>
<text x="200.3" y="311.6" class="xl">C</text>
<text x="214.7" y="311.6" class="xl">D</text>
<text x="229.1" y="311.6" class="xl">E</text>
<text x="243.5" y="311.6" class="xl">F</text>
<text x="257.9" y="311.6" class="xl">G</text>
<path d="M171.5 237.9V236.3H215.6V237.9" fill="none" stroke="#5c5c5c" stroke-width="1"/>
<text x="194.4" y="237" class="st">****</text>
<path d="M171.5 242.5V240.9H200.9V242.5" fill="none" stroke="#5c5c5c" stroke-width="1"/>
<text x="185.8" y="241.7" class="st">*</text>
<path d="M171.5 247.7V246.1H189.4V247.7" fill="none" stroke="#5c5c5c" stroke-width="1"/>
<text x="180.7" y="246.6" class="st">****</text>
<text transform="translate(214.5 231.41) scale(1 1.18)" class="ti" style="font-weight:bold;font-family:'Liberation Sans';font-size:6.52px;letter-spacing:0px">MDA5 48h</text>
<text transform="translate(151.2 273.8) rotate(-90)" class="fc fb">Fold Change</text>
<rect x="279.3" y="219.6" width="129.7" height="104.2" fill="none" stroke="#c9c9f2" stroke-width="1.1"/>
<rect x="303.5" y="266.68" width="9.4" height="20.43" fill="#fb9ea4"/>
<line x1="308.2" y1="266.68" x2="308.2" y2="258.29" stroke="#fdc6ca" stroke-width="0.8" opacity="1"/>
<line x1="306" y1="258.29" x2="310.4" y2="258.29" stroke="#fbb0b5" stroke-width="1" opacity="1"/>
<rect x="317.05" y="279.58" width="9.4" height="7.52" fill="#f4b285"/>
<line x1="319.55" y1="274.63" x2="323.95" y2="274.63" stroke="#f5c29c" stroke-width="1" opacity="0.5"/>
<rect x="330.6" y="277.64" width="9.4" height="9.46" fill="#bcbc08"/>
<line x1="335.3" y1="277.64" x2="335.3" y2="267.97" stroke="#dada80" stroke-width="0.8" opacity="1"/>
<line x1="333.1" y1="267.97" x2="337.5" y2="267.97" stroke="#cccc4a" stroke-width="1" opacity="1"/>
<rect x="344.15" y="281.3" width="9.4" height="5.81" fill="#90c4f8"/>
<line x1="348.85" y1="281.3" x2="348.85" y2="275.92" stroke="#bddcfa" stroke-width="0.8" opacity="1"/>
<line x1="346.65" y1="275.92" x2="351.05" y2="275.92" stroke="#a6d0f8" stroke-width="1" opacity="1"/>
<rect x="357.7" y="276.35" width="9.4" height="10.75" fill="#8b90d2"/>
<line x1="362.4" y1="276.35" x2="362.4" y2="271.41" stroke="#b8bbe4" stroke-width="0.8" opacity="1"/>
<line x1="360.2" y1="271.41" x2="364.6" y2="271.41" stroke="#a4a8dc" stroke-width="1" opacity="1"/>
<rect x="371.25" y="284.52" width="9.4" height="2.58" fill="#005e00"/>
<line x1="375.95" y1="284.52" x2="375.95" y2="276.35" stroke="#8ab48a" stroke-width="0.8" opacity="1"/>
<line x1="373.75" y1="276.35" x2="378.15" y2="276.35" stroke="#5a965a" stroke-width="1" opacity="1"/>
<rect x="384.8" y="284.31" width="9.4" height="2.8" fill="#c65b10"/>
<line x1="387.3" y1="275.92" x2="391.7" y2="275.92" stroke="#dc9a66" stroke-width="1" opacity="0.5"/>
<line x1="299.3" y1="287.1" x2="399" y2="287.1" stroke="#111" stroke-width="1.8"/>
<line x1="308.2" y1="287.1" x2="308.2" y2="289.7" stroke="#111" stroke-width="1.1"/>
<line x1="321.75" y1="287.1" x2="321.75" y2="289.7" stroke="#111" stroke-width="1.1"/>
<line x1="335.3" y1="287.1" x2="335.3" y2="289.7" stroke="#111" stroke-width="1.1"/>
<line x1="348.85" y1="287.1" x2="348.85" y2="289.7" stroke="#111" stroke-width="1.1"/>
<line x1="362.4" y1="287.1" x2="362.4" y2="289.7" stroke="#111" stroke-width="1.1"/>
<line x1="375.95" y1="287.1" x2="375.95" y2="289.7" stroke="#111" stroke-width="1.1"/>
<line x1="389.5" y1="287.1" x2="389.5" y2="289.7" stroke="#111" stroke-width="1.1"/>
<line x1="299.3" y1="243.5" x2="299.3" y2="309.2" stroke="#222" stroke-width="1.3"/>
<line x1="297.3" y1="308.6" x2="299.3" y2="308.6" stroke="#222" stroke-width="1.1"/>
<line x1="297.3" y1="287.1" x2="299.3" y2="287.1" stroke="#222" stroke-width="1.1"/>
<text x="294.7" y="288.8" class="tk">1</text>
<line x1="297.3" y1="265.6" x2="299.3" y2="265.6" stroke="#222" stroke-width="1.1"/>
<text x="294.7" y="267.3" class="tk">2</text>
<line x1="297.3" y1="244.1" x2="299.3" y2="244.1" stroke="#222" stroke-width="1.1"/>
<text x="294.7" y="245.8" class="tk">3</text>
<text x="308.2" y="310.5" class="xl">A</text>
<text x="321.75" y="310.5" class="xl">B</text>
<text x="335.3" y="310.5" class="xl">C</text>
<text x="348.85" y="310.5" class="xl">D</text>
<text x="362.4" y="310.5" class="xl">E</text>
<text x="375.95" y="310.5" class="xl">F</text>
<text x="389.5" y="310.5" class="xl">G</text>
<path d="M308.5 244.1V242.5H383.8V244.1" fill="none" stroke="#5c5c5c" stroke-width="1"/>
<text x="346.2" y="243.2" class="st">**</text>
<path d="M308.5 248.7V247.1H373.7V248.7" fill="none" stroke="#5c5c5c" stroke-width="1"/>
<text x="342.1" y="247.8" class="st">**</text>
<path d="M308.5 253.1V251.5H344.6V253.1" fill="none" stroke="#4a4a4a" stroke-width="1.1"/>
<text x="325.7" y="252.2" class="st">*</text>
<path d="M308.5 256.9V255.3H323.6V256.9" fill="none" stroke="#9a9a9a" stroke-width="0.9"/>
<text x="316.7" y="256.1" class="st">*</text>
<text transform="translate(349 235.69) scale(1 1.18)" class="ti" style="font-weight:bold;font-family:'Liberation Sans';font-size:6px;letter-spacing:0px">MX 48h</text>
<text transform="translate(290.7 275) rotate(-90)" class="fc">Fold Change</text>
<rect x="417.4" y="219.6" width="129.2" height="104.2" fill="none" stroke="#c9c9f2" stroke-width="1.1"/>
<rect x="442.2" y="262.94" width="9.4" height="21.86" fill="#fb9ea4"/>
<line x1="446.9" y1="262.94" x2="446.9" y2="257.31" stroke="#fdc6ca" stroke-width="0.8" opacity="1"/>
<line x1="444.7" y1="257.31" x2="449.1" y2="257.31" stroke="#fbb0b5" stroke-width="1" opacity="1"/>
<line x1="460.6" y1="284.8" x2="460.6" y2="282.45" stroke="#f8d2b6" stroke-width="0.8" opacity="0.5"/>
<rect x="469.6" y="272.11" width="9.4" height="12.69" fill="#bcbc08"/>
<line x1="474.3" y1="272.11" x2="474.3" y2="267.41" stroke="#dada80" stroke-width="0.8" opacity="1"/>
<line x1="472.1" y1="267.41" x2="476.5" y2="267.41" stroke="#cccc4a" stroke-width="1" opacity="1"/>
<rect x="483.3" y="277.99" width="9.4" height="6.81" fill="#90c4f8"/>
<line x1="485.8" y1="273.05" x2="490.2" y2="273.05" stroke="#a6d0f8" stroke-width="1" opacity="0.5"/>
<rect x="497" y="279.63" width="9.4" height="5.17" fill="#8b90d2"/>
<line x1="501.7" y1="279.63" x2="501.7" y2="277.51" stroke="#b8bbe4" stroke-width="0.8" opacity="1"/>
<line x1="499.5" y1="277.51" x2="503.9" y2="277.51" stroke="#a4a8dc" stroke-width="1" opacity="1"/>
<rect x="510.7" y="277.99" width="9.4" height="6.81" fill="#005e00"/>
<line x1="513.2" y1="273.05" x2="517.6" y2="273.05" stroke="#5a965a" stroke-width="1" opacity="1"/>
<rect x="524.4" y="279.16" width="9.4" height="5.64" fill="#c65b10"/>
<line x1="529.1" y1="279.16" x2="529.1" y2="270" stroke="#e6b48e" stroke-width="0.8" opacity="1"/>
<line x1="438.2" y1="284.8" x2="538.7" y2="284.8" stroke="#111" stroke-width="1.8"/>
<line x1="446.9" y1="284.8" x2="446.9" y2="287.4" stroke="#111" stroke-width="1.1"/>
<line x1="460.6" y1="284.8" x2="460.6" y2="287.4" stroke="#111" stroke-width="1.1"/>
<line x1="474.3" y1="284.8" x2="474.3" y2="287.4" stroke="#111" stroke-width="1.1"/>
<line x1="488" y1="284.8" x2="488" y2="287.4" stroke="#111" stroke-width="1.1"/>
<line x1="501.7" y1="284.8" x2="501.7" y2="287.4" stroke="#111" stroke-width="1.1"/>
<line x1="515.4" y1="284.8" x2="515.4" y2="287.4" stroke="#111" stroke-width="1.1"/>
<line x1="529.1" y1="284.8" x2="529.1" y2="287.4" stroke="#111" stroke-width="1.1"/>
<line x1="438.2" y1="237.2" x2="438.2" y2="308.9" stroke="#222" stroke-width="1.3"/>
<line x1="436.2" y1="308.3" x2="438.2" y2="308.3" stroke="#222" stroke-width="1.1"/>
<line x1="436.2" y1="284.8" x2="438.2" y2="284.8" stroke="#222" stroke-width="1.1"/>
<text x="433.6" y="286.5" class="tk">1</text>
<line x1="436.2" y1="261.3" x2="438.2" y2="261.3" stroke="#222" stroke-width="1.1"/>
<text x="433.6" y="263" class="tk">2</text>
<line x1="436.2" y1="237.8" x2="438.2" y2="237.8" stroke="#222" stroke-width="1.1"/>
<text x="433.6" y="239.5" class="tk">3</text>
<text x="446.9" y="308.3" class="xl">A</text>
<text x="460.6" y="308.3" class="xl">B</text>
<text x="474.3" y="308.3" class="xl">C</text>
<text x="488" y="308.3" class="xl">D</text>
<text x="501.7" y="308.3" class="xl">E</text>
<text x="515.4" y="308.3" class="xl">F</text>
<text x="529.1" y="308.3" class="xl">G</text>
<path d="M446.5 241.6V240H510.5V241.6" fill="none" stroke="#4a4a4a" stroke-width="1.3"/>
<text x="479.3" y="240.3" class="st">**</text>
<path d="M446.5 246.7V245.1H501.8V246.7" fill="none" stroke="#9a9a9a" stroke-width="0.9"/>
<text x="474.2" y="245.4" class="st">***</text>
<path d="M446.5 250.8V249.2H490.2V250.8" fill="none" stroke="#5c5c5c" stroke-width="1.1"/>
<text x="468.4" y="249.9" class="st">***</text>
<path d="M446.5 255.7V254.1H459.3V255.7" fill="none" stroke="#5c5c5c" stroke-width="1"/>
<text x="453.1" y="254.9" class="st">****</text>
<path d="M461.1 265.9V264.3H473.7V265.9" fill="none" stroke="#4a4a4a" stroke-width="1.1"/>
<text x="467.6" y="264.9" class="st">***</text>
<text transform="translate(488 228.27) scale(1 1.18)" class="ti" style="font-weight:bold;font-family:'Liberation Sans';font-size:6.21px;letter-spacing:0px">P65 48h</text>
<text transform="translate(427.3 271.5) rotate(-90)" class="fc fb">Fold Change</text>
</svg>
</body></html>
